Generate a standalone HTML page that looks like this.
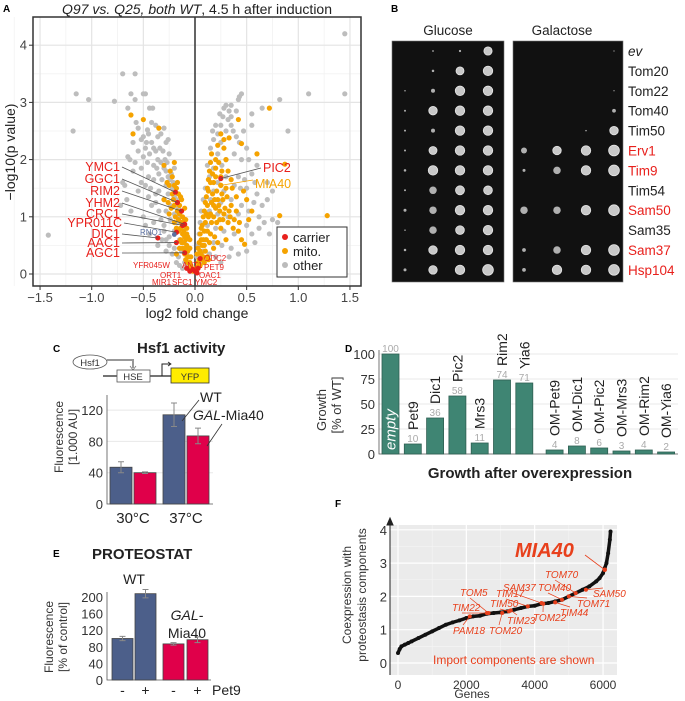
<!DOCTYPE html>
<html><head><meta charset="utf-8">
<style>
html,body{margin:0;padding:0;background:#fff;}
svg{display:block;font-family:"Liberation Sans",Arial,sans-serif;}
</style></head>
<body>
<svg id="fig" width="685" height="701" viewBox="0 0 685 701" xmlns="http://www.w3.org/2000/svg">
<rect x="0" y="0" width="685" height="701" fill="#fff"/>
<g id="panelA">
<text x="3" y="12" font-size="10" font-weight="bold">A</text>
<text x="197" y="14" text-anchor="middle" font-size="14" fill="#222"><tspan font-style="italic">Q97 vs. Q25, both WT</tspan>, 4.5 h after induction</text>
<g id="aGrid"></g>
<g id="aPts"></g>
<g id="aLabels"></g>
<rect x="33" y="17" width="328" height="269" fill="none" stroke="#333" stroke-width="1.5"/>
<text x="197" y="318" text-anchor="middle" font-size="14" fill="#222">log2 fold change</text>
<text x="0" y="0" transform="translate(15,152) rotate(-90)" text-anchor="middle" font-size="14" fill="#222">−log10(p value)</text>
<g>
<rect x="277" y="227" width="70" height="50" fill="#fff" stroke="#333" stroke-width="1"/>
<circle cx="285" cy="237" r="3" fill="#e8201c"/><text x="293" y="242" font-size="13" fill="#222">carrier</text>
<circle cx="285" cy="251" r="3" fill="#f5a300"/><text x="293" y="256" font-size="13" fill="#222">mito.</text>
<circle cx="285" cy="265" r="3" fill="#bbb"/><text x="293" y="270" font-size="13" fill="#222">other</text>
</g>
</g>
<g id="panelB">
<text x="391" y="12" font-size="10" font-weight="bold">B</text>
<text x="448" y="35" text-anchor="middle" font-size="13.5" fill="#222">Glucose</text>
<text x="562" y="35" text-anchor="middle" font-size="13.5" fill="#222">Galactose</text>
<rect x="392" y="41" width="112" height="241" fill="#111" stroke="#777" stroke-width="0.6"/>
<rect x="513" y="41" width="110" height="241" fill="#111" stroke="#777" stroke-width="0.6"/>
<g id="bSpots"></g>
<g id="bLabels"></g>
</g>
<g id="panelC">
<text x="53" y="352" font-size="10" font-weight="bold">C</text>
<text x="137" y="353" font-size="15" font-weight="bold" fill="#222">Hsf1 activity</text>
<g>
<ellipse cx="90" cy="362" rx="17" ry="7" fill="#fff" stroke="#555" stroke-width="0.8"/>
<text x="90" y="366" text-anchor="middle" font-size="9.5" fill="#333">Hsf1</text>
<path d="M107,360 H133 V368" fill="none" stroke="#999" stroke-width="2"/>
<path d="M130,366 L133,370 L136,366" fill="none" stroke="#777" stroke-width="0.8"/>
<line x1="103" y1="376" x2="171" y2="376" stroke="#222" stroke-width="1.2"/>
<rect x="117" y="370" width="33" height="12" fill="#fff" stroke="#555" stroke-width="0.8"/>
<text x="133" y="380" text-anchor="middle" font-size="9.5" fill="#333">HSE</text>
<path d="M162,376 V364 H170" fill="none" stroke="#222" stroke-width="1"/>
<path d="M168,362 L171,364 L168,366" fill="none" stroke="#222" stroke-width="0.8"/>
<rect x="171" y="368" width="38" height="15" fill="#ffec00" stroke="#333" stroke-width="0.8"/>
<text x="190" y="380" text-anchor="middle" font-size="9.5" fill="#333">YFP</text>
</g>
<g id="cChart"></g>
<text transform="translate(63,437) rotate(-90)" text-anchor="middle" font-size="12" fill="#333">Fluorescence</text>
<text transform="translate(77,437) rotate(-90)" text-anchor="middle" font-size="12" fill="#333">[1.000 AU]</text>
<text x="200" y="402" font-size="14" fill="#222">WT</text>
<line x1="199" y1="400" x2="182" y2="421" stroke="#333" stroke-width="0.8"/>
<text x="193" y="420" font-size="14" fill="#222"><tspan font-style="italic">GAL</tspan>-Mia40</text>
<line x1="222" y1="424" x2="207" y2="446" stroke="#333" stroke-width="0.8"/>
</g>
<g id="panelE">
<text x="53" y="557" font-size="10" font-weight="bold">E</text>
<text x="92" y="559" font-size="15" font-weight="bold" fill="#222">PROTEOSTAT</text>
<g id="eChart"></g>
<text transform="translate(53,637) rotate(-90)" text-anchor="middle" font-size="12" fill="#333">Fluorescence</text>
<text transform="translate(67,637) rotate(-90)" text-anchor="middle" font-size="12" fill="#333">[% of control]</text>
<text x="134" y="584" text-anchor="middle" font-size="14" fill="#222">WT</text>
<text x="187" y="620" text-anchor="middle" font-size="14" fill="#222" font-style="italic">GAL-</text>
<text x="187" y="638" text-anchor="middle" font-size="14" fill="#222">Mia40</text>
<text x="212" y="695" font-size="14" fill="#222">Pet9</text>
</g>
<g id="panelD">
<text x="345" y="352" font-size="10" font-weight="bold">D</text>
<text transform="translate(326,410) rotate(-90)" text-anchor="middle" font-size="13" fill="#333">Growth</text>
<text transform="translate(341,405) rotate(-90)" text-anchor="middle" font-size="13" fill="#333">[% of WT]</text>
<g id="dChart"></g>
<text x="530" y="478" text-anchor="middle" font-size="15" font-weight="bold" fill="#222">Growth after overexpression</text>
</g>
<g id="panelF">
<text x="335" y="507" font-size="10" font-weight="bold">F</text>
<rect x="390" y="525" width="227" height="150" fill="#ebebeb"/>
<g id="fChart"></g>
<text transform="translate(351,595) rotate(-90)" text-anchor="middle" font-size="12" fill="#333">Coexpression with</text>
<text transform="translate(366,595) rotate(-90)" text-anchor="middle" font-size="12" fill="#333">proteostasis components</text>
<text x="472" y="698" text-anchor="middle" font-size="12" fill="#333">Genes</text>
<text x="433" y="664" font-size="12" fill="#e8401c">Import  components are shown</text>
<text x="515" y="557" font-size="20" font-weight="bold" font-style="italic" fill="#e8401c">MIA40</text>
</g>
</svg>
<script>
// ===== Panel A data =====
const greyPts=[[-1.42,0.68],[-1.18,2.5],[-1.15,3.15],[-1.03,3.05],[-0.78,3.02],[-0.70,3.5],[-0.58,3.5],[-0.62,3.15],[-0.58,3.05],[-0.5,3.15],[-0.48,3.15],[-0.44,2.9],[-0.41,2.9],[-0.65,2.9],[-0.6,2.3],[-0.52,2.35],[-0.45,2.45],[-0.42,2.3],[-0.4,2.2],[-0.38,2.15],[-0.48,2.2],[-0.36,2.0],[-0.33,1.95],[-0.4,1.9],[-0.3,1.85],[-0.28,1.8],[-0.35,1.75],[-0.26,1.7],[-0.32,1.65],[-0.24,1.65],[-0.28,1.55],[-0.22,1.5],[-0.35,1.45],[-0.26,1.4],[-0.2,1.35],[-0.3,1.3],[-0.18,1.3],[-0.24,1.2],[-0.16,1.15],[-0.28,1.1],[-0.2,1.05],[-0.14,1.0],[-0.24,0.95],[-0.17,0.9],[-0.3,0.85],[-0.12,0.8],[-0.2,0.75],[-0.25,0.65],[-0.15,0.6],[-0.1,0.55],[-0.2,0.45],[-0.13,0.4],[-0.08,0.35],[-0.16,0.3],[-0.1,0.2],[-0.06,0.15],[-0.12,0.1],[-0.5,2.05],[-0.55,2.15],[-0.52,1.6],[-0.45,1.35],[-0.42,1.2],[-0.5,1.0],[-0.62,1.1],[-0.4,0.9],[-0.32,0.6],[-0.28,0.4],[-0.55,1.45],[-0.45,1.7],[-0.38,1.4],[-0.6,1.8],[-0.68,1.55],[-0.38,2.6],[-0.42,2.65],[-0.33,2.45],[-0.28,2.3],[-0.25,2.1],[-0.2,1.85],[-0.46,2.52],[-0.36,2.4],[-0.3,2.55],[-0.26,2.35],
[-0.55,2.55],[-0.5,2.4],[-0.47,2.3],[-0.44,2.1],[-0.52,1.85],[-0.48,1.55],[-0.43,1.5],[-0.38,1.25],[-0.35,1.1],[-0.33,0.95],[-0.3,0.75],[-0.28,0.6],[-0.25,0.5],[-0.22,0.35],[-0.18,0.2],[-0.15,0.15],[-0.4,1.65],[-0.37,1.85],[-0.34,2.2],[-0.31,2.15],[-0.29,2.0],[-0.27,1.95],[-0.23,1.75],[-0.21,1.6],[-0.19,1.45],[-0.46,1.95],[-0.58,1.95],[-0.63,2.0],[-0.66,1.3],[-0.7,1.6],[-0.72,1.2],[-0.48,0.85],[-0.44,0.7],[-0.36,0.5],[-0.65,2.05],[-0.57,2.65],
[1.45,4.2],[1.45,3.15],[1.1,3.15],[0.82,3.05],[0.9,2.5],[0.45,3.15],[0.43,3.1],[0.42,3.05],[0.35,2.95],[0.3,2.95],[0.55,2.8],[0.65,2.9],[0.55,2.6],[0.28,2.9],[0.25,2.6],[0.22,2.45],[0.3,2.5],[0.18,2.35],[0.25,2.3],[0.35,2.6],[0.4,2.4],[0.15,2.2],[0.22,2.1],[0.3,2.0],[0.12,1.9],[0.18,1.85],[0.26,1.9],[0.38,2.1],[0.14,1.7],[0.22,1.6],[0.3,1.7],[0.42,1.7],[0.1,1.5],[0.18,1.45],[0.28,1.45],[0.38,1.55],[0.5,1.5],[0.08,1.3],[0.15,1.3],[0.25,1.25],[0.35,1.3],[0.45,1.2],[0.06,1.1],[0.14,1.1],[0.22,1.05],[0.32,1.0],[0.42,1.05],[0.5,0.85],[0.05,0.9],[0.12,0.85],[0.2,0.8],[0.28,0.75],[0.38,0.7],[0.04,0.7],[0.1,0.6],[0.18,0.55],[0.26,0.5],[0.35,0.45],[0.03,0.5],[0.08,0.4],[0.14,0.35],[0.2,0.3],[0.02,0.3],[0.06,0.2],[0.6,1.4],[0.65,1.2],[0.55,0.7],[0.62,0.8],[0.7,1.3],[0.8,0.9],[0.45,2.0],[0.5,2.2],[0.6,1.9],[0.35,2.75],[0.4,2.85],[0.32,2.7],[0.75,0.95],[0.85,0.6],
[0.27,2.75],[0.24,2.8],[0.33,2.85],[0.37,2.5],[0.43,2.3],[0.47,2.5],[0.52,2.0],[0.55,1.75],[0.58,1.6],[0.48,1.65],[0.44,1.5],[0.57,1.25],[0.62,1.0],[0.67,0.9],[0.72,0.7],[0.58,0.55],[0.5,0.4],[0.42,0.35],[0.33,0.3],[0.25,0.2],[0.7,1.6],[0.75,1.45],[0.52,1.1],[0.2,2.6],[0.17,2.5]];
const mitoPts=[[-0.62,2.78],[-0.5,2.7],[-0.6,2.45],[-0.35,2.55],[-0.3,1.9],[-0.2,1.95],[-0.25,1.55],[-0.3,1.3],[-0.2,1.2],[-0.15,1.05],[-0.1,0.95],[-0.12,0.7],[-0.08,0.5],[-0.15,0.45],[-0.06,0.3],[-0.04,0.15],[-0.22,1.4],[-0.17,1.6],[-0.13,1.3],[-0.1,1.15],[-0.13,0.9],[-0.08,0.8],[-0.07,0.65],[-0.11,0.55],[-0.05,0.45],[-0.09,0.25],[-0.03,0.1],[-0.2,0.9],[-0.16,0.75],[-0.14,0.6],[-0.18,0.35],[-0.25,1.05],[-0.12,0.45],[-0.1,0.35],[-0.07,0.2],[-0.16,0.95],[-0.11,0.75],[-0.09,0.6],
[-0.02,0.05],[-0.04,0.3],[-0.05,0.2],[-0.06,0.45],[-0.07,0.4],[-0.08,0.7],[-0.09,0.45],[-0.1,0.65],[-0.11,0.85],[-0.12,1.0],[-0.13,0.55],[-0.14,0.8],[-0.15,1.2],[-0.16,1.4],[-0.17,1.1],[-0.18,0.8],[-0.19,1.0],[-0.2,1.55],[-0.21,1.3],[-0.22,1.7],[-0.23,1.15],[-0.24,1.8],[-0.26,1.25],[-0.27,1.6],[-0.05,0.6],[-0.06,0.1],[-0.07,0.3],[-0.09,0.95],[-0.14,1.35],[-0.18,1.5],
[0.72,2.9],[0.42,2.7],[0.45,2.28],[0.6,2.1],[0.87,1.92],[1.28,1.02],[0.82,1.02],[0.55,1.1],[0.48,0.52],[0.35,1.2],[0.3,1.5],[0.25,1.7],[0.2,2.0],[0.28,2.2],[0.33,2.38],[0.15,1.6],[0.12,1.2],[0.1,0.9],[0.08,0.6],[0.05,0.4],[0.03,0.2],[0.18,1.0],[0.22,1.3],[0.25,0.8],[0.15,0.7],[0.2,1.85],[0.23,1.95],[0.17,1.75],[0.13,1.45],[0.11,1.05],[0.09,0.75],[0.07,0.5],[0.06,0.35],[0.04,0.25],[0.02,0.12],[0.28,1.05],[0.32,0.9],[0.38,0.95],[0.3,0.6],[0.22,0.55],[0.18,0.45],[0.12,0.3],[0.4,1.35],[0.35,1.65],[0.42,0.75],[0.26,1.4],[0.2,1.15],[0.16,0.9],[0.14,0.55],[0.1,0.4],[0.5,1.3],[0.3,2.0],[0.45,0.6],[0.25,1.55],[0.16,1.25],[0.19,0.65],[0.13,1.0],[0.08,0.3],[0.24,1.1],[0.33,1.1],[0.27,0.95],
[0.02,0.35],[0.03,0.45],[0.04,0.55],[0.05,0.7],[0.06,0.6],[0.07,0.85],[0.08,1.0],[0.09,1.1],[0.1,1.25],[0.11,1.35],[0.12,1.5],[0.13,1.65],[0.14,1.8],[0.15,1.95],[0.16,2.1],[0.17,1.4],[0.18,1.6],[0.19,1.3],[0.2,1.7],[0.21,1.45],[0.22,2.25],[0.23,1.2],[0.24,0.95],[0.26,1.8],[0.27,1.3],[0.29,1.15],[0.31,1.35],[0.32,1.8],[0.34,1.0],[0.36,1.5],[0.37,0.8],[0.4,1.1],[0.43,0.9],[0.47,1.45],[0.52,0.95],[0.06,0.8],[0.09,0.5],[0.12,0.75],[0.15,1.05],[0.11,0.6],[0.18,1.2],[0.21,0.9],[0.05,0.15],[0.07,0.25],[0.09,0.2],[0.13,0.25],[0.28,2.35],[0.25,2.45]];
const carrierNames=['YMC1','GGC1','RIM2','YHM2','CRC1','YPR011C','DIC1','AAC1','AGC1','PIC2'];
const carrierX=[-0.19,-0.17,-0.13,-0.1,-0.12,-0.18,-0.36,-0.18,-0.1,0.25];
const carrierY=[1.43,1.25,1.1,0.87,0.85,0.73,0.63,0.55,0.37,1.67];
const clusterX=[-0.08,-0.05,0,0.05,0.03,0.02,-0.02];
const clusterY=[0.1,0.05,0.05,0.27,0.1,0.02,0.08];

const NS='http://www.w3.org/2000/svg';
function el(tag,attrs,parent){const e=document.createElementNS(NS,tag);for(const k in attrs)e.setAttribute(k,attrs[k]);parent.appendChild(e);return e;}
const ax=v=>195+v*103.3, ay=v=>274-v*57.2;
const aGrid=document.getElementById('aGrid');
[-1.75,-1.25,-0.75,-0.25,0.25,0.75,1.25].forEach(v=>{const l=el('line',{x1:ax(v),x2:ax(v),y1:17,y2:286,stroke:'#f2f2f2','stroke-width':0.8},aGrid);

});
[0.5,1.5,2.5,3.5].forEach(v=>{const l=el('line',{x1:33,x2:361,y1:ay(v),y2:ay(v),stroke:'#f2f2f2','stroke-width':0.8},aGrid);

});
const xTicksA=[-1.5,-1.0,-0.5,0.0,0.5,1.0,1.5], xTickLabA=['−1.5','−1.0','−0.5','0.0','0.5','1.0','1.5'];
xTicksA.forEach((v,i)=>{const l=el('line',{x1:ax(v),x2:ax(v),y1:17,y2:286,stroke:'#e4e4e4','stroke-width':1.2},aGrid);


const t=el('line',{x1:ax(v),x2:ax(v),y1:286,y2:290,stroke:'#333'},aGrid);


const s=el('text',{x:ax(v),y:302,'text-anchor':'middle','font-size':13,fill:'#444'},aGrid);s.textContent=xTickLabA[i];

});
const yTicksA=[0,1,2,3,4];
yTicksA.forEach(v=>{const l=el('line',{x1:33,x2:361,y1:ay(v),y2:ay(v),stroke:'#e4e4e4','stroke-width':1.2},aGrid);


const t=el('line',{x1:29,x2:33,y1:ay(v),y2:ay(v),stroke:'#333'},aGrid);


const s=el('text',{x:27,y:ay(v)+4.5,'text-anchor':'end','font-size':13,fill:'#444'},aGrid);s.textContent=v;

});
const zl=el('line',{x1:ax(0),x2:ax(0),y1:17,y2:286,stroke:'#333','stroke-width':1.5},aGrid);


const aPts=document.getElementById('aPts');
greyPts.forEach(p=>{const c=el('circle',{cx:ax(p[0]),cy:ay(p[1]),r:2.6,fill:'#bdbdbd'},aPts);

});
mitoPts.forEach(p=>{const c=el('circle',{cx:ax(p[0]),cy:ay(p[1]),r:2.6,fill:'#f5a300'},aPts);

});
clusterX.forEach((x,i)=>{const c=el('circle',{cx:ax(x),cy:ay(clusterY[i]),r:2.6,fill:'#e8201c'},aPts);

});
const aLab=document.getElementById('aLabels');
const labX=[120,120,120,120,120,122,120,120,120,263], labY=[171,183,195,207,218,227,238,247,257,172];
carrierNames.forEach((n,i)=>{
const px=ax(carrierX[i]),py=ay(carrierY[i]);
const right=i===9;
const l=el('line',{x1:right?labX[i]-2:labX[i]+2,y1:labY[i]-4,x2:px,y2:py,stroke:'#555','stroke-width':0.8},aLab);


const c=el('circle',{cx:px,cy:py,r:2.6,fill:'#e8201c'},aPts);


const t=el('text',{x:labX[i],y:labY[i],'text-anchor':right?'start':'end','font-size':12.5,fill:'#e8201c'},aLab);t.textContent=n;

});
{const px=ax(0.25),py=ay(1.55);
const l=el('line',{x1:253,y1:180,x2:px,y2:py,stroke:'#f5a300','stroke-width':0.8},aLab);


const c=el('circle',{cx:px,cy:py,r:2.6,fill:'#f5a300'},aPts);


const t=el('text',{x:255,y:188,'font-size':12.5,fill:'#f5a300'},aLab);t.textContent='MIA40';


const r=el('circle',{cx:ax(-0.2),cy:ay(0.69),r:2.4,fill:'#5a6fa0'},aPts);


const rt=el('text',{x:140,y:235,'font-size':8,fill:'#5a6fa0'},aLab);rt.textContent='RNQ1';

}
const smallTxt=[['YFR045W',133,268],['ANT1',182,268],['ODC2',204,261],['PET9',204,270],['ORT1',160,278],['OAC1',199,278],['MIR1',152,285],['SFC1',172,285],['YMC2',195,285]];
smallTxt.forEach(s=>{const t=el('text',{x:s[1],y:s[2],'font-size':8,fill:'#e8201c'},aLab);t.textContent=s[0];

});

// ===== Panel B =====
const strainNames=['ev','Tom20','Tom22','Tom40','Tim50','Erv1','Tim9','Tim54','Sam50','Sam35','Sam37','Hsp104'];
const strainRed=[0,0,0,0,0,1,1,0,1,0,1,1];
const glucoseSpots=[[0,0.7,0.9,3.3],[0,1,3.2,3.8],[0.6,1.6,3.8,3.8],[0.8,3.4,3.8,3.8],[0.8,1.6,3.8,3.8],[0.8,3.2,3.8,3.8],[1,3.8,3.8,3.8],[0.8,3,3.6,3.5],[1.2,3,3.8,3.8],[0.6,3,3.5,3.8],[1,3.4,3.8,3.8],[1.2,3.4,3.8,4.3]];
const galactoseSpots=[[0,0,0,0.5],[0,0,0,0],[0,0,0,0.5],[0,0,0,1.5],[0,0,0.6,3.4],[2.4,3.4,3.8,4.3],[1.2,3,3.8,4.3],[0,0,0,0],[3,3,3.8,4.3],[0,0,0,0],[1.5,3,3.8,4.3],[1.5,3.8,3.8,4.3]];
const gluCols=[405,433,460,488], galCols=[524,557,586,614];
const rowY=i=>51+i*19.9;
const bS=document.getElementById('bSpots'), bL=document.getElementById('bLabels');
strainNames.forEach((n,i)=>{
[[glucoseSpots,gluCols],[galactoseSpots,galCols]].forEach(([arr,cols])=>{arr[i].forEach((r,j)=>{if(r<=0)return;
const c=el('circle',{cx:cols[j],cy:rowY(i),r:r*1.25,fill:r>3?'#c8c8c8':'#b0b0b0',stroke:r>3?'#e6e6e6':'none','stroke-width':0.8},bS);

});});
const t=el('text',{x:628,y:rowY(i)+5,'font-size':13.5,fill:strainRed[i]?'#e8201c':'#222','font-style':i===0?'italic':'normal'},bL);t.textContent=n;

});

// ===== Panel C =====
const cCats=['30°C','37°C'];
const cWT=[47,114], cWTerr=[7,15];
const cGAL=[40,87], cGALerr=[1,10];
const cTicks=[0,40,80,120];
const cy=v=>504-v*0.7825;
const cC=document.getElementById('cChart');
cTicks.forEach(v=>{if(v>0){const g=el('line',{x1:107,x2:213,y1:cy(v),y2:cy(v),stroke:'#e8e8e8'},cC);

}
const t=el('text',{x:103,y:cy(v)+5,'text-anchor':'end','font-size':13,fill:'#333'},cC);t.textContent=v;

});
const cAx=el('path',{d:'M107,395 V504 H213',fill:'none',stroke:'#555','stroke-width':0.8},cC);


function bar(parent,x,w,top,bottom,fill,ys,name){
const b=el('rect',{x:x,y:top,width:w,height:bottom-top,fill:fill,stroke:'#444','stroke-width':0.8},parent);


const e=el('path',{d:`M${x+w/2},${ys[0]} V${ys[1]} M${x+w/2-3},${ys[0]} H${x+w/2+3} M${x+w/2-3},${ys[1]} H${x+w/2+3}`,stroke:'#888','stroke-width':1,fill:'none'},parent);

}
cCats.forEach((c,i)=>{const x0=110+i*53;
bar(cC,x0,22,cy(cWT[i]),504,'#4c5f8a',[cy(cWT[i]+cWTerr[i]),cy(cWT[i]-cWTerr[i])],'bar-wt');
bar(cC,x0+24,22,cy(cGAL[i]),504,'#e0004a',[cy(cGAL[i]+cGALerr[i]),cy(cGAL[i]-cGALerr[i])],'bar-gal-mia40');
const t=el('text',{x:x0+23,y:523,'text-anchor':'middle','font-size':15,fill:'#222'},cC);t.textContent=c;

});

// ===== Panel E =====
const eLabels=['-','+','-','+'];
const eVals=[100,208,87,97], eErr=[5,10,3,7];
const eColors=['#4c5f8a','#4c5f8a','#e0004a','#e0004a'];
const eTicks=[0,40,80,120,160,200];
const ey=v=>680-v*0.415;
const eC=document.getElementById('eChart');
eTicks.forEach(v=>{const t=el('text',{x:103,y:ey(v)+5,'text-anchor':'end','font-size':13,fill:'#333'},eC);t.textContent=v;

});
const eAx=el('path',{d:'M107,592 V680 H211',fill:'none',stroke:'#555','stroke-width':0.8},eC);


const eX=[112,135,163,187];
eVals.forEach((v,i)=>{bar(eC,eX[i],21,ey(v),680,eColors[i],[ey(v+eErr[i]),ey(v-eErr[i])],'bar-proteostat');
const t=el('text',{x:eX[i]+10.5,y:695,'text-anchor':'middle','font-size':14,fill:'#222'},eC);t.textContent=eLabels[i];

});

// ===== Panel D =====
const dCats=['empty','Pet9','Dic1','Pic2','Mrs3','Rim2','Yia6','OM-Pet9','OM-Dic1','OM-Pic2','OM-Mrs3','OM-Rim2','OM-Yia6'];
const dVals=[100,10,36,58,11,74,71,4,8,6,3,4,2];
const dTicks=[0,25,50,75,100];
const dy=v=>454-v;
const dC=document.getElementById('dChart');
dTicks.forEach(v=>{if(v>0){const g=el('line',{x1:379,x2:678,y1:dy(v),y2:dy(v),stroke:'#e8e8e8'},dC);

}
const t=el('text',{x:375,y:dy(v)+5,'text-anchor':'end','font-size':13,fill:'#333'},dC);t.textContent=v;

});
const dAx=el('path',{d:'M379,350 V454 H678',fill:'none',stroke:'#555','stroke-width':0.8},dC);


dCats.forEach((c,i)=>{const x=382+i*22.3+(i>=7?8:0), w=17, top=dy(dVals[i]);
const b=el('rect',{x:x,y:top,width:w,height:454-top,fill:'#3f8573',stroke:'#2f5f52','stroke-width':0.8},dC);


const vt=el('text',{x:x+w/2,y:top-2,'text-anchor':'middle','font-size':10,fill:'#aaa'},dC);vt.textContent=dVals[i];


let t;
if(i===0){t=el('text',{transform:`translate(${x+w/2+5},${450}) rotate(-90)`,'font-size':15,'font-style':'italic',fill:'#fff'},dC);}
else{t=el('text',{transform:`translate(${x+w/2+5},${top-14}) rotate(-90)`,'font-size':14,fill:'#222'},dC);}
t.textContent=c;

});

// ===== Panel F =====
const fGenes=[0,50,100,200,300,400,600,800,1000,1200,1400,1600,1800,2000,2200,2400,2600,2800,3000,3200,3400,3600,3800,4000,4200,4400,4600,4800,5000,5200,5400,5600,5800,5900,6000,6050,6100,6150,6200,6220];
const fScore=[0.3,0.42,0.5,0.55,0.6,0.65,0.75,0.85,0.95,1.05,1.15,1.22,1.28,1.35,1.4,1.42,1.48,1.5,1.52,1.55,1.6,1.65,1.7,1.72,1.78,1.8,1.85,1.9,2.0,2.1,2.2,2.3,2.45,2.55,2.7,2.85,3.0,3.3,3.7,3.95];
const fLabNames=['PAM18','TIM22','TOM5','TOM20','TIM50','TIM23','TIM17','SAM37','TOM22','TIM44','TOM40','TOM71','TOM70','SAM50'];
const fLabGene=[2100,2600,2650,3050,3250,3300,3800,4200,4250,4600,4800,5000,5200,5500];
const fLabScore=[1.4,1.5,1.5,1.5,1.55,1.58,1.7,1.8,1.78,1.82,1.9,2.0,2.1,2.2];
const fLabPos=[[453,634],[452,611],[460,596],[489,634],[490,607],[507,624],[496,597],[503,591],[533,621],[560,616],[538,591],[577,607],[545,578],[593,597]];
const fx=v=>398+v*0.03417, fy=v=>663-v*33.3;
const fC=document.getElementById('fChart');
[1000,3000,5000].forEach(v=>{const g=el('line',{x1:fx(v),x2:fx(v),y1:525,y2:675,stroke:'#f5f5f5','stroke-width':0.6},fC);

});
[0.5,1.5,2.5,3.5].forEach(v=>{const g=el('line',{x1:390,x2:617,y1:fy(v),y2:fy(v),stroke:'#f5f5f5','stroke-width':0.6},fC);

});
const fXT=[0,2000,4000,6000], fYT=[0,1,2,3,4];
fXT.forEach(v=>{const g=el('line',{x1:fx(v),x2:fx(v),y1:525,y2:675,stroke:'#fff','stroke-width':1.2},fC);


const t=el('text',{x:fx(v),y:689,'text-anchor':'middle','font-size':12,fill:'#333'},fC);t.textContent=v;

});
fYT.forEach(v=>{const g=el('line',{x1:390,x2:617,y1:fy(v),y2:fy(v),stroke:'#fff','stroke-width':1.2},fC);


const t=el('text',{x:387,y:fy(v)+5,'text-anchor':'end','font-size':13,fill:'#333'},fC);t.textContent=v;

});
const fa=el('path',{d:'M390,675 V521 M387,525 L390,518 L393,525 Z',stroke:'#222',fill:'#222','stroke-width':1},fC);


const fl=el('polyline',{points:fGenes.map((g,i)=>fx(g)+','+fy(fScore[i])).join(' '),fill:'none',stroke:'#111','stroke-width':3.5},fC);


fGenes.forEach((g,i)=>{const c=el('circle',{cx:fx(g),cy:fy(fScore[i]),r:2,fill:'#111'},fC);

});
fLabNames.forEach((n,i)=>{const px=fx(fLabGene[i]),py=fy(fLabScore[i]);
const above=fLabPos[i][1]<py;
const l=el('line',{x1:fLabPos[i][0]+10,y1:fLabPos[i][1]+(above?2:-9),x2:px,y2:py,stroke:'#e8401c','stroke-width':0.7},fC);


const c=el('circle',{cx:px,cy:py,r:2,fill:'#e8401c'},fC);


const t=el('text',{x:fLabPos[i][0],y:fLabPos[i][1],'font-size':10,'font-style':'italic',fill:'#e8401c'},fC);t.textContent=n;

});
{const px=fx(6050),py=fy(2.8);
const l=el('line',{x1:585,y1:555,x2:px,y2:py,stroke:'#e8401c','stroke-width':0.8},fC);


const c=el('circle',{cx:px,cy:py,r:2.3,fill:'#e8401c'},fC);

}
</script>
</body></html>
